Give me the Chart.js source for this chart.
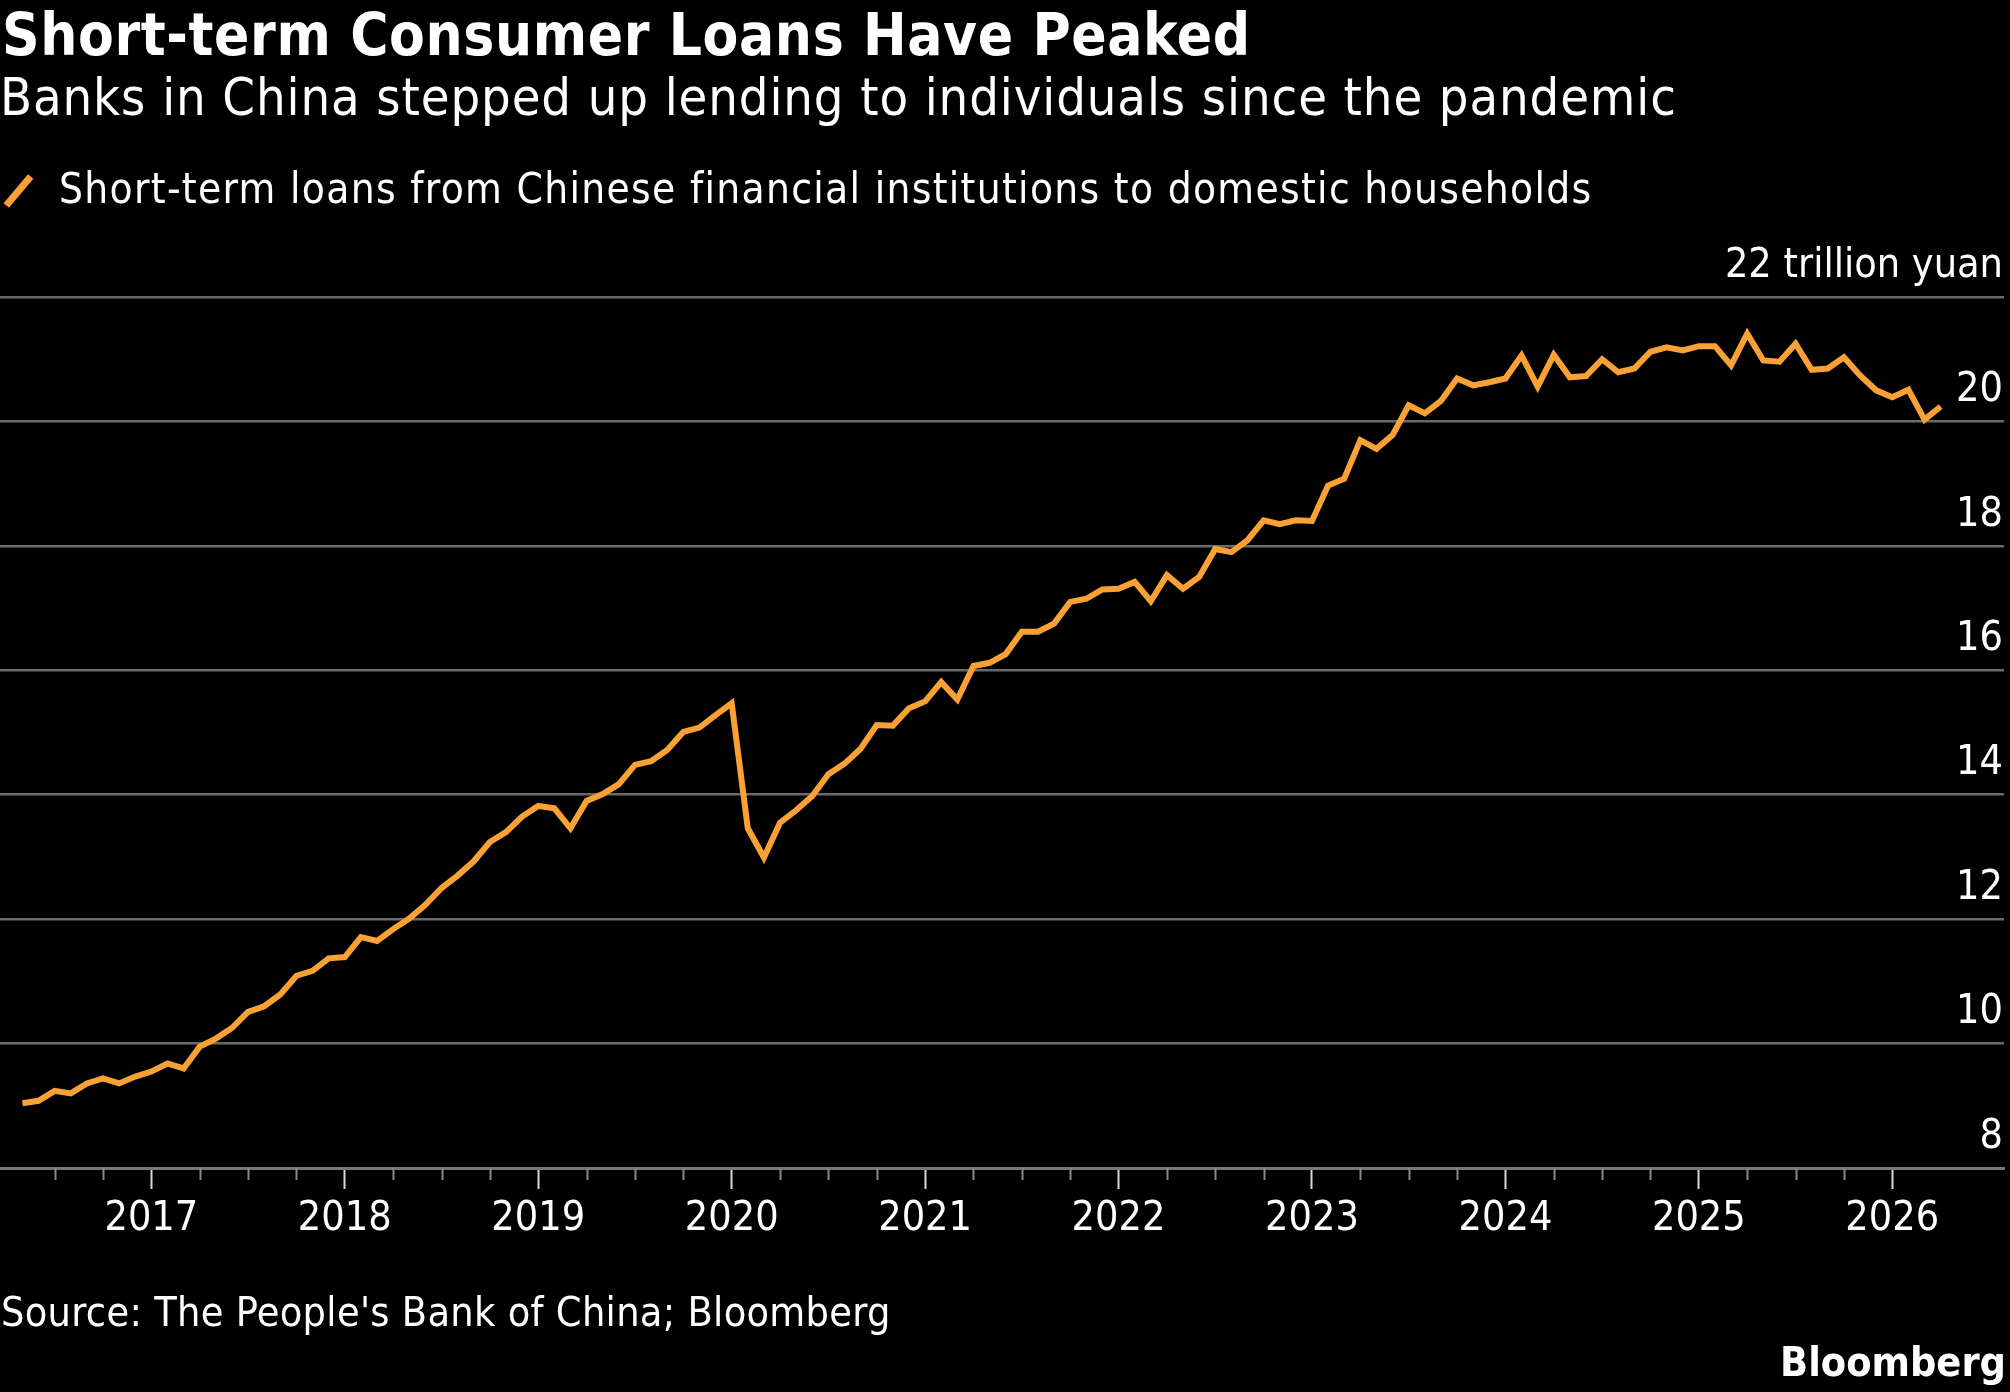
<!DOCTYPE html>
<html>
<head>
<meta charset="utf-8">
<script src="https://cdn.jsdelivr.net/npm/chart.js@4.4.1/dist/chart.umd.min.js"></script>
<style>
  body { margin: 0; background: #000; overflow: hidden; }
  #wrap { position: relative; width: 2010px; height: 1392px; background: #000; color: #fff;
          font-family: "DejaVu Sans Condensed", "DejaVu Sans", sans-serif;
          font-variant-ligatures: none; }
  .txt { position: absolute; white-space: nowrap; line-height: 1; }
  #title { left: 2px; top: 6px; font-size: 58px; font-weight: bold; letter-spacing: 0.6px; }
  #subtitle { left: 0px; top: 71px; font-size: 52px; letter-spacing: 0.9px; }
  #legend { left: 59px; top: 168px; font-size: 42px; letter-spacing: 1.3px; }
  #legendIcon { position: absolute; left: 15px; top: 172px; width: 7px; height: 38px;
                background: #F9A134; transform: rotate(40deg); transform-origin: center; }
  #source { left: 1px; top: 1292px; font-size: 41px; letter-spacing: 0.3px; }
  #brand { right: 4px; top: 1342px; font-size: 41px; font-weight: bold; }
  canvas { position: absolute; left: 0; top: 0; }
</style>
</head>
<body>
<div id="wrap">
  <canvas id="chart" width="2010" height="1392"></canvas>
  <div class="txt" id="title">Short-term Consumer Loans Have Peaked</div>
  <div class="txt" id="subtitle">Banks in China stepped up lending to individuals since the pandemic</div>
  <div id="legendIcon"></div>
  <div class="txt" id="legend">Short-term loans from Chinese financial institutions to domestic households</div>
  <div class="txt" id="source">Source: The People's Bank of China; Bloomberg</div>
  <div class="txt" id="brand">Bloomberg</div>
</div>
<script>
// monthly, May 2016 .. Apr 2026, trillion yuan
var firstMonth = [2016, 5];
var monthCount = 120;

var loans = [
  9.04, 9.08, 9.24, 9.20, 9.36, 9.44, 9.36, 9.47,
  9.55, 9.68, 9.60, 9.95, 10.08, 10.25, 10.51, 10.60, 10.79, 11.09, 11.17, 11.37,
  11.39, 11.71, 11.65, 11.84, 12.01, 12.23, 12.50, 12.70, 12.93, 13.24, 13.40, 13.65,
  13.82, 13.78, 13.46, 13.90, 14.01, 14.17, 14.48, 14.54, 14.72, 15.01, 15.08, 15.28,
  15.47, 13.46, 12.99, 13.55, 13.75, 13.98, 14.33, 14.50, 14.74, 15.12, 15.11, 15.39,
  15.50, 15.81, 15.53, 16.07, 16.12, 16.26, 16.62, 16.62, 16.75, 17.10, 17.15, 17.30,
  17.31, 17.42, 17.11, 17.53, 17.31, 17.50, 17.95, 17.90, 18.09, 18.41, 18.35, 18.41,
  18.40, 18.97, 19.08, 19.70, 19.56, 19.78, 20.26, 20.13, 20.33, 20.69, 20.58, 20.63,
  20.69, 21.06, 20.56, 21.07, 20.71, 20.73, 21.00, 20.79, 20.85, 21.12, 21.19, 21.14,
  21.21, 21.21, 20.90, 21.41, 20.98, 20.96, 21.25, 20.83, 20.85, 21.03, 20.74, 20.50,
  20.39, 20.51, 20.03, 20.24
];

var yearLabels = ['2017', '2018', '2019', '2020', '2021', '2022', '2023', '2024', '2025', '2026'];
var yTicks = [8, 10, 12, 14, 16, 18, 20, 22];
var unitLabel = '22 trillion yuan';

// month labels "YYYY-MM" for each point
var months = [];
for (var i = 0; i < monthCount; i++) {
  var m = firstMonth[1] - 1 + i;
  var yy = firstMonth[0] + Math.floor(m / 12);
  var mm = (m % 12) + 1;
  months.push(yy + '-' + (mm < 10 ? '0' + mm : mm));
}

var points = loans.map(function (v, i) { return { x: i, y: v }; });

var FONT = "DejaVu Sans Condensed";
var orange = '#F9A134';
var gridGray = '#6a6a6a';

// quarterly minor ticks under the axis
var minorTicks = {
  id: 'minorTicks',
  afterDraw: function (chart) {
    var xs = chart.scales.x;
    var ctx = chart.ctx;
    var bottom = chart.chartArea.bottom;
    ctx.save();
    ctx.strokeStyle = '#8a8a8a';
    ctx.lineWidth = 2;
    months.forEach(function (m, i) {
      if (i === 0 || i === months.length - 1) return;
      var mm = m.slice(5);
      if (mm === '04' || mm === '07' || mm === '10') {
        var px = Math.round(xs.getPixelForValue(i)) + 0.5;
        ctx.beginPath();
        ctx.moveTo(px, bottom);
        ctx.lineTo(px, bottom + 12);
        ctx.stroke();
      }
    });
    ctx.restore();
  }
};

var ctx = document.getElementById('chart');
new Chart(ctx, {
  type: 'line',
  data: {
    datasets: [{
      label: 'Short-term loans from Chinese financial institutions to domestic households',
      data: points,
      borderColor: orange,
      borderWidth: 6,
      pointRadius: 0,
      tension: 0,
      fill: false
    }]
  },
  options: {
    responsive: false,
    animation: false,
    devicePixelRatio: 1,
    layout: { padding: { top: 297, right: 6, bottom: 94, left: 0 } },
    plugins: { legend: { display: false }, tooltip: { enabled: false } },
    scales: {
      x: {
        type: 'linear',
        min: -1.39,
        max: 122.93,
        afterBuildTicks: function (scale) {
          var t = [];
          months.forEach(function (m, i) {
            if (m.slice(5) === '01' && yearLabels.indexOf(m.slice(0, 4)) >= 0) t.push({ value: i });
          });
          scale.ticks = t;
        },
        afterFit: function (scale) { scale.height = 130; },
        ticks: {
          color: '#fff',
          font: { family: FONT, size: 41 },
          padding: 6,
          autoSkip: false,
          maxRotation: 0,
          callback: function (v) { return months[v] ? months[v].slice(0, 4) : ''; }
        },
        grid: {
          drawOnChartArea: false,
          drawTicks: true,
          tickLength: 21,
          tickColor: '#d8d8d8',
          tickWidth: 2
        },
        border: { display: true, color: '#777', width: 3 }
      },
      y: {
        position: 'right',
        min: 8,
        max: 22,
        afterBuildTicks: function (scale) {
          scale.ticks = yTicks.map(function (v) { return { value: v }; });
        },
        afterFit: function (scale) { scale.width = 0; },
        ticks: {
          mirror: true,
          padding: -1,
          labelOffset: -31,
          color: '#fff',
          font: { family: FONT, size: 41 },
          callback: function (v) { return v === 22 ? unitLabel : String(v); }
        },
        grid: { color: gridGray, lineWidth: 2.5, drawTicks: false },
        border: { display: false }
      }
    }
  },
  plugins: [minorTicks]
});
</script>
</body>
</html>
